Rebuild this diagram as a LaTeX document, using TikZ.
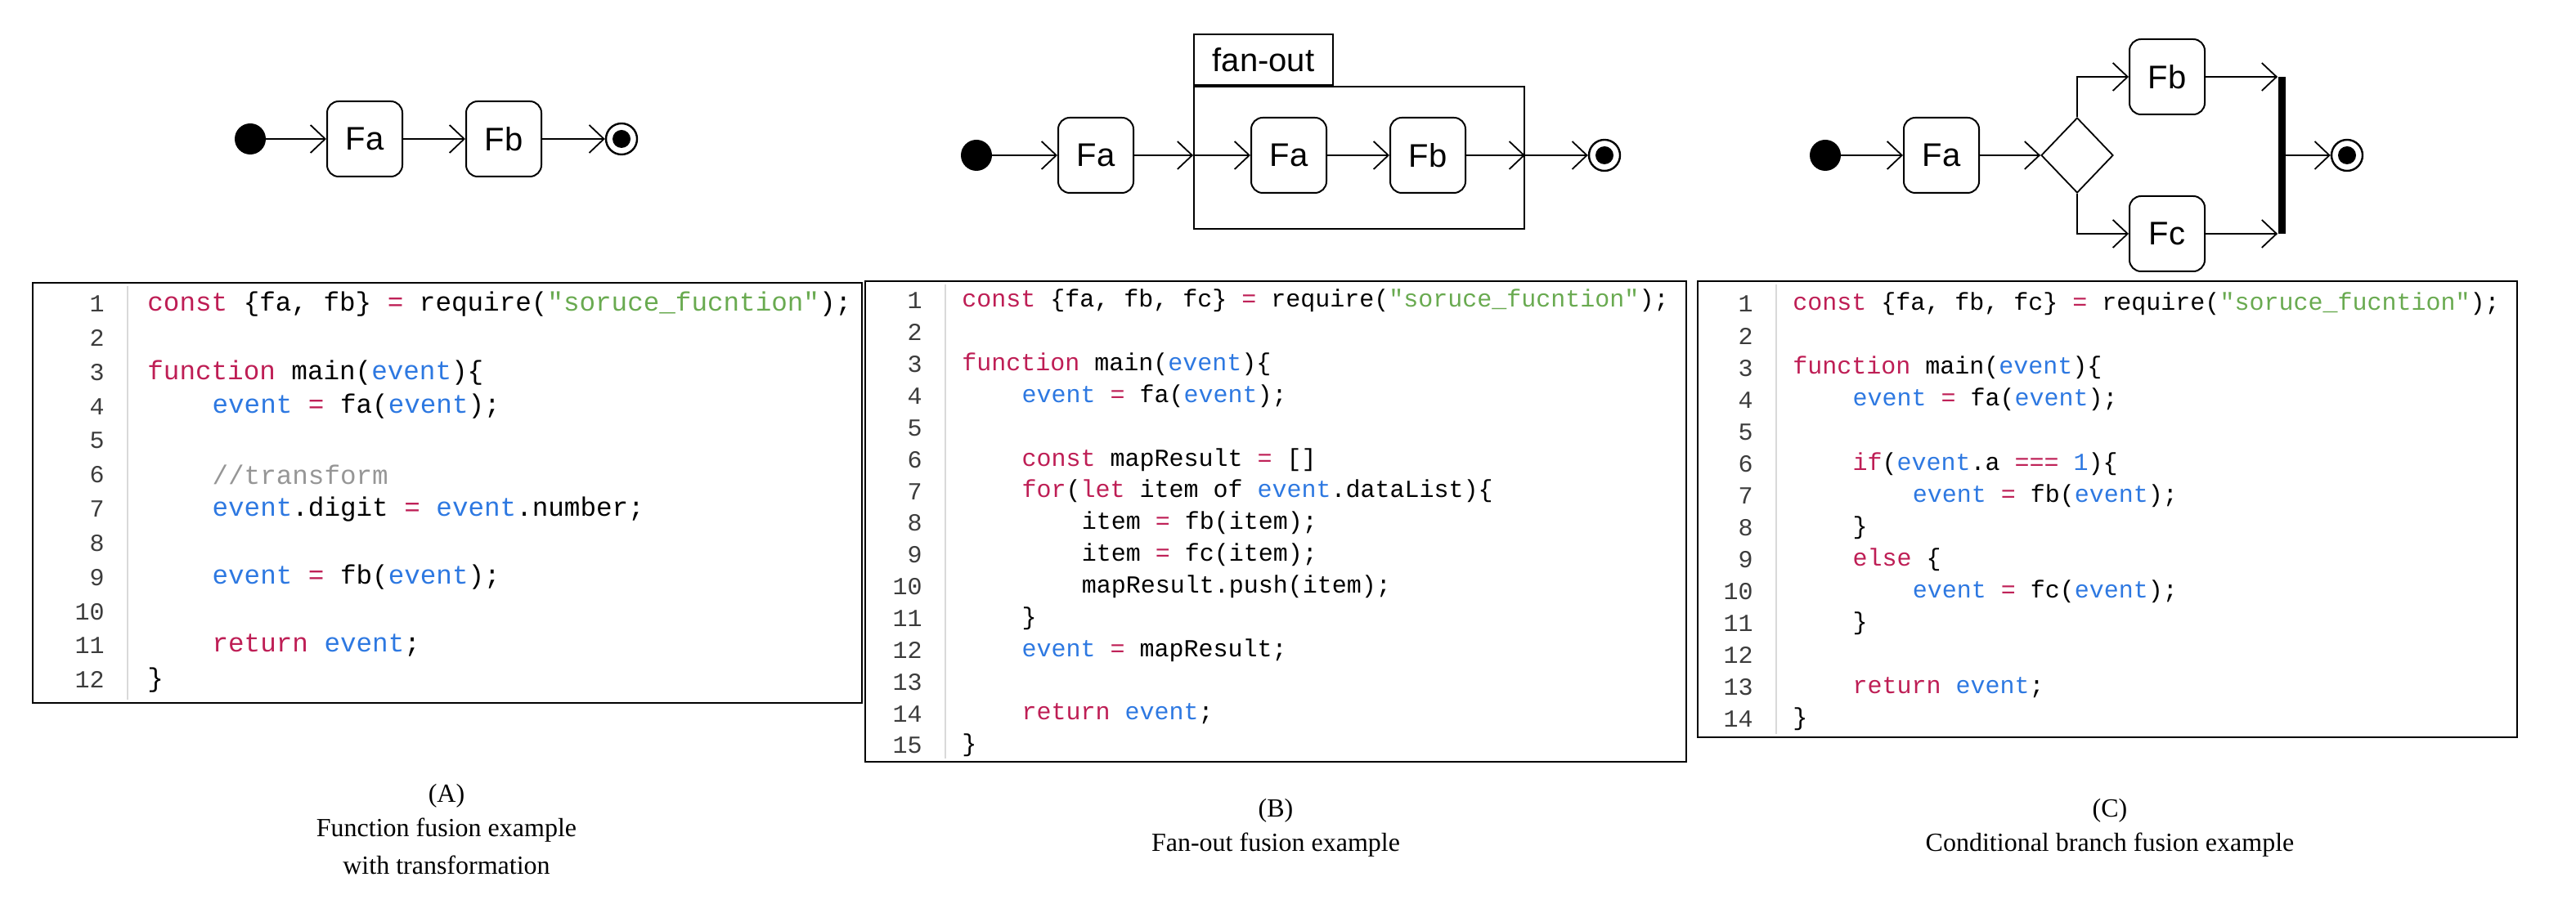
\documentclass[tikz,border=0pt]{standalone}
\usepackage{fontspec}
\setmainfont{Liberation Serif}
\newfontfamily\codefont{Liberation Mono}
\newfontfamily\sansfont{Liberation Sans}
\usetikzlibrary{arrows.meta,shapes.geometric,positioning}
\definecolor{kwc}{RGB}{190,30,85}
\definecolor{evc}{RGB}{45,120,225}
\definecolor{stc}{RGB}{105,170,80}
\definecolor{cmc}{RGB}{150,150,150}
\definecolor{numc}{RGB}{60,60,60}
\newcommand\kwd[1]{\textcolor{kwc}{#1}}
\newcommand\evt[1]{\textcolor{evc}{#1}}
\newcommand\strg[1]{\textcolor{stc}{#1}}
\newcommand\cmt[1]{\textcolor{cmc}{#1}}
\begin{document}
\begin{tikzpicture}[x=1pt,y=-1pt,
  state/.style={draw,line width=1pt,rounded corners=7pt,minimum width=46pt,minimum height=46pt,inner sep=0pt,font=\sansfont\fontsize{20}{22}\selectfont},
  startdot/.style={circle,fill=black,minimum size=19pt,inner sep=0pt},
  enddot/.style={circle,draw,line width=1.2pt,minimum size=19pt,inner sep=0pt,path picture={\fill (path picture bounding box.center) circle (5.5pt);}},
  flow/.style={-{Straight Barb[length=9pt,width=17pt]},line width=0.9pt},
  codebox/.style={draw,line width=1.4pt},
  sep/.style={draw=black!15,line width=1pt},
  num/.style={anchor=east,inner sep=0pt,text=numc,font=\codefont\fontsize{15}{16}\selectfont},
  codeA/.style={anchor=west,inner sep=0pt,font=\codefont\fontsize{16.3}{18}\selectfont},
  code/.style={anchor=west,inner sep=0pt,font=\codefont\fontsize{15}{17}\selectfont},
  captext/.style={inner sep=0pt,font=\fontsize{16}{18}\selectfont}]
\useasboundingbox (0,0) rectangle (1575,553);

% ---------- Panel A diagram
\node[startdot] (sA) at (153,85) {};
\node[state] (faA) at (223,85) {Fa};
\node[state] (fbA) at (308,85) {Fb};
\node[enddot] (eA) at (380,85) {};
\draw[flow] (sA) -- (faA);
\draw[flow] (faA) -- (fbA);
\draw[flow] (fbA) -- (eA);

% ---------- Panel B diagram
\node[startdot] (sB) at (597,95) {};
\node[state] (faB) at (670,95) {Fa};
\node[draw,line width=0.9pt,minimum width=202pt,minimum height=87pt,inner sep=0pt] (fan) at (831,96.5) {};
\node[draw,line width=0.9pt,anchor=south west,minimum width=85pt,minimum height=31pt,inner sep=0pt,font=\sansfont\fontsize{20}{22}\selectfont] (fantab) at (fan.north west) {fan-out};
\node[state] (faB2) at (788,95) {Fa};
\node[state] (fbB2) at (873,95) {Fb};
\node[enddot] (eB) at (981,95) {};
\coordinate (fanL) at (fan.west |- faB);
\coordinate (fanR) at (fan.east |- faB);
\draw[flow] (sB) -- (faB);
\draw[flow] (faB) -- (fanL);
\draw[flow] (fanL) -- (faB2);
\draw[flow] (faB2) -- (fbB2);
\draw[flow] (fbB2) -- (fanR);
\draw[flow] (fanR) -- (eB);

% ---------- Panel C diagram
\node[startdot] (sC) at (1116,95) {};
\node[state] (faC) at (1187,95) {Fa};
\node[draw,diamond,line width=0.9pt,minimum width=44pt,minimum height=46pt,inner sep=0pt,shape aspect=1] (dC) at (1270,95) {};
\node[state] (fbC) at (1325,47) {Fb};
\node[state] (fcC) at (1325,143) {Fc};
\node[fill=black,minimum width=4.5pt,minimum height=96pt,inner sep=0pt] (bar) at (1395,95) {};
\node[enddot] (eC) at (1435,95) {};
\draw[flow] (sC) -- (faC);
\draw[flow] (faC) -- (dC);
\draw[flow] (dC.north) |- (fbC);
\draw[flow] (dC.south) |- (fcC);
\draw[flow] (fbC) -- (fbC -| bar.west);
\draw[flow] (fcC) -- (fcC -| bar.west);
\draw[flow] (bar) -- (eC);

% ---------- Code box A
\node[codebox,minimum width=507pt,minimum height=257pt,inner sep=0pt] (boxA) at (273.5,301.5) {};
\draw[sep] (78,175) -- (78,428);
\foreach \i in {1,...,12} \node[num] (nA\i) at (64,{186+(\i-1)*20.9}) {\i};
\node[codeA] (a1) at (90,186) {\kwd{const} \{fa, fb\} \kwd{=} require(\strg{"soruce\_fucntion"});};
\node[codeA] (a3) at (90,227.8) {\kwd{function} main(\evt{event})\{};
\node[codeA] (a4) at (129.6,248.7) {\evt{event} \kwd{=} fa(\evt{event});};
\node[codeA] (a6) at (129.6,290.5) {\cmt{//transform}};
\node[codeA] (a7) at (129.6,311.4) {\evt{event}.digit \kwd{=} \evt{event}.number;};
\node[codeA] (a9) at (129.6,353.2) {\evt{event} \kwd{=} fb(\evt{event});};
\node[codeA] (a11) at (129.6,395) {\kwd{return} \evt{event};};
\node[codeA] (a12) at (90,415.9) {\}};

% ---------- Code box B
\node[codebox,minimum width=502pt,minimum height=294pt,inner sep=0pt] (boxB) at (780,319) {};
\draw[sep] (578,174) -- (578,464);
\foreach \i in {1,...,15} \node[num] (nB\i) at (564,{184+(\i-1)*19.43}) {\i};
\node[code] (b1) at (588,184) {\kwd{const} \{fa, fb, fc\} \kwd{=} require(\strg{"soruce\_fucntion"});};
\node[code] (b3) at (588,222.9) {\kwd{function} main(\evt{event})\{};
\node[code] (b4) at (624.6,242.3) {\evt{event} \kwd{=} fa(\evt{event});};
\node[code] (b6) at (624.6,281.2) {\kwd{const} mapResult \kwd{=} []};
\node[code] (b7) at (624.6,300.6) {\kwd{for}(\kwd{let} item of \evt{event}.dataList)\{};
\node[code] (b8) at (661.2,320) {item \kwd{=} fb(item);};
\node[code] (b9) at (661.2,339.4) {item \kwd{=} fc(item);};
\node[code] (b10) at (661.2,358.9) {mapResult.push(item);};
\node[code] (b11) at (624.6,378.3) {\}};
\node[code] (b12) at (624.6,397.7) {\evt{event} \kwd{=} mapResult;};
\node[code] (b14) at (624.6,436.6) {\kwd{return} \evt{event};};
\node[code] (b15) at (588,456) {\}};

% ---------- Code box C
\node[codebox,minimum width=501pt,minimum height=279pt,inner sep=0pt] (boxC) at (1288.5,311.5) {};
\draw[sep] (1086,174) -- (1086,449);
\foreach \i in {1,...,14} \node[num] (nC\i) at (1072,{186+(\i-1)*19.54}) {\i};
\node[code] (c1) at (1096,186) {\kwd{const} \{fa, fb, fc\} \kwd{=} require(\strg{"soruce\_fucntion"});};
\node[code] (c3) at (1096,225.1) {\kwd{function} main(\evt{event})\{};
\node[code] (c4) at (1132.6,244.6) {\evt{event} \kwd{=} fa(\evt{event});};
\node[code] (c6) at (1132.6,283.7) {\kwd{if}(\evt{event}.a \kwd{===} \evt{1})\{};
\node[code] (c7) at (1169.2,303.2) {\evt{event} \kwd{=} fb(\evt{event});};
\node[code] (c8) at (1132.6,322.8) {\}};
\node[code] (c9) at (1132.6,342.3) {\kwd{else} \{};
\node[code] (c10) at (1169.2,361.9) {\evt{event} \kwd{=} fc(\evt{event});};
\node[code] (c11) at (1132.6,381.4) {\}};
\node[code] (c13) at (1132.6,420.5) {\kwd{return} \evt{event};};
\node[code] (c14) at (1096,440) {\}};

% ---------- Captions
\node[captext] (capA1) at (273,487) {(A)};
\node[captext] (capA2) at (273,508) {Function fusion example};
\node[captext] (capA3) at (273,529) {with transformation};
\node[captext] (capB1) at (780,496) {(B)};
\node[captext] (capB2) at (780,517) {Fan-out fusion example};
\node[captext] (capC1) at (1290,496) {(C)};
\node[captext] (capC2) at (1290,517) {Conditional branch fusion example};
\end{tikzpicture}
\end{document}
